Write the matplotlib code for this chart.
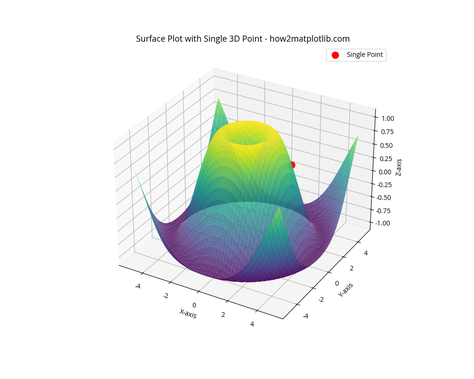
import numpy as np
import matplotlib
matplotlib.use('Agg')
import matplotlib.pyplot as plt
from PIL import Image

plt.rcParams['font.family'] = ['Open Sans', 'DejaVu Sans']
plt.rcParams['axes.unicode_minus'] = False

# surface grid
x_range = [-5, 5]
y_range = [-5, 5]
n_grid = 100

# the single point
point_x = [2]
point_y = [2]
point_z = [0.31]

title = 'Surface Plot with Single 3D Point - how2matplotlib.com'

x = np.linspace(x_range[0], x_range[1], n_grid)
y = np.linspace(y_range[0], y_range[1], n_grid)
X, Y = np.meshgrid(x, y)
Z = np.sin(np.sqrt(X**2 + Y**2))

fig = plt.figure(figsize=(10, 8), dpi=100)
ax = fig.add_subplot(111, projection='3d')

ax.plot_surface(X, Y, Z, cmap='viridis', alpha=0.8)
ax.scatter(point_x, point_y, point_z, color='red', s=100, label='Single Point')

ax.set_xlabel('X-axis')
ax.set_ylabel('Y-axis')
ax.set_zlabel('Z-axis')
ax.set_title(title, fontsize=12.7)
ax.legend()

plt.savefig('out.png', dpi=100)
plt.close()

# drawn at full size, then scaled down like the reference
img = Image.open('out.png').convert('RGB')
img.resize((474, 379), Image.LANCZOS).save('out.png')
